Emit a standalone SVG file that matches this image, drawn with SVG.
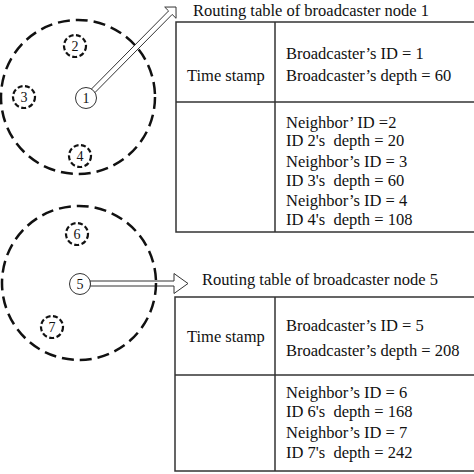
<svg xmlns="http://www.w3.org/2000/svg" width="474" height="474" viewBox="0 0 474 474">
<style>
text{font-family:"Liberation Serif","Times New Roman",serif;fill:#111;white-space:pre}
.t{font-size:16.5px}
.n{font-size:14px;text-anchor:middle}
.big{fill:none;stroke:#111;stroke-width:2.5;stroke-dasharray:12 6}
.dn{fill:#fff;stroke:#111;stroke-width:2.2;stroke-dasharray:5 2.5}
.sn{fill:#fff;stroke:#333;stroke-width:1}
.arr{fill:#fff;stroke:#333;stroke-width:1;stroke-linejoin:miter}
.tb{fill:#fff;stroke:#333;stroke-width:1.5}
.ln{stroke:#333;stroke-width:1.5}
</style>
<rect width="474" height="474" fill="#fff"/>
<g id="connectors">
<path class="arr" d="M94.78,92.76 L172.16,14.45 L176.07,18.31 L176,7 L164.69,7.07 L168.6,10.93 L91.22,89.24 Z"/>
<path class="arr" d="M90,281 L174,281 L174,273.5 L188,283.5 L174,293.5 L174,286 L90,286 Z"/>
</g>
<g id="range1"><circle class="big" cx="78" cy="97" r="77"/></g>
<g id="range5"><circle class="big" cx="79" cy="283" r="77"/></g>
<g id="node1"><circle class="sn" cx="86" cy="98" r="10.5"/><text class="n" x="86" y="103">1</text></g>
<g id="node2"><circle class="dn" cx="75" cy="46" r="11"/><text class="n" x="75" y="51">2</text></g>
<g id="node3"><circle class="dn" cx="24" cy="97" r="11"/><text class="n" x="24" y="102">3</text></g>
<g id="node4"><circle class="dn" cx="80" cy="156" r="11"/><text class="n" x="80" y="161">4</text></g>
<g id="node5"><circle class="sn" cx="80" cy="284" r="10.5"/><text class="n" x="80" y="289">5</text></g>
<g id="node6"><circle class="dn" cx="77" cy="234" r="11"/><text class="n" x="77" y="239">6</text></g>
<g id="node7"><circle class="dn" cx="52" cy="327" r="11"/><text class="n" x="52" y="332">7</text></g>
<g id="table1">
<text class="t" x="193" y="15.5">Routing table of broadcaster node 1</text>
<rect class="tb" x="176" y="22" width="310" height="210"/>
<line class="ln" x1="275" y1="22" x2="275" y2="232"/>
<line class="ln" x1="176" y1="102" x2="480" y2="102"/>
<text class="t" x="187" y="81">Time stamp</text>
<text class="t" x="286" y="59">Broadcaster’s ID = 1</text>
<text class="t" x="286" y="81">Broadcaster’s depth = 60</text>
<text class="t" x="286" y="128">Neighbor’ ID =2</text>
<text class="t" x="286" y="146">ID 2's  depth = 20</text>
<text class="t" x="286" y="167">Neighbor’s ID = 3</text>
<text class="t" x="286" y="186">ID 3's  depth = 60</text>
<text class="t" x="286" y="206">Neighbor’s ID = 4</text>
<text class="t" x="286" y="225">ID 4's  depth = 108</text>
</g>
<g id="table5">
<text class="t" x="202" y="285">Routing table of broadcaster node 5</text>
<rect class="tb" x="175" y="297" width="310" height="174"/>
<line class="ln" x1="275" y1="297" x2="275" y2="471"/>
<line class="ln" x1="175" y1="375" x2="480" y2="375"/>
<text class="t" x="187" y="342">Time stamp</text>
<text class="t" x="286" y="331">Broadcaster’s ID = 5</text>
<text class="t" x="286" y="356">Broadcaster’s depth = 208</text>
<text class="t" x="286" y="398">Neighbor’s ID = 6</text>
<text class="t" x="286" y="417">ID 6's  depth = 168</text>
<text class="t" x="286" y="438">Neighbor’s ID = 7</text>
<text class="t" x="286" y="458">ID 7's  depth = 242</text>
</g>
</svg>
